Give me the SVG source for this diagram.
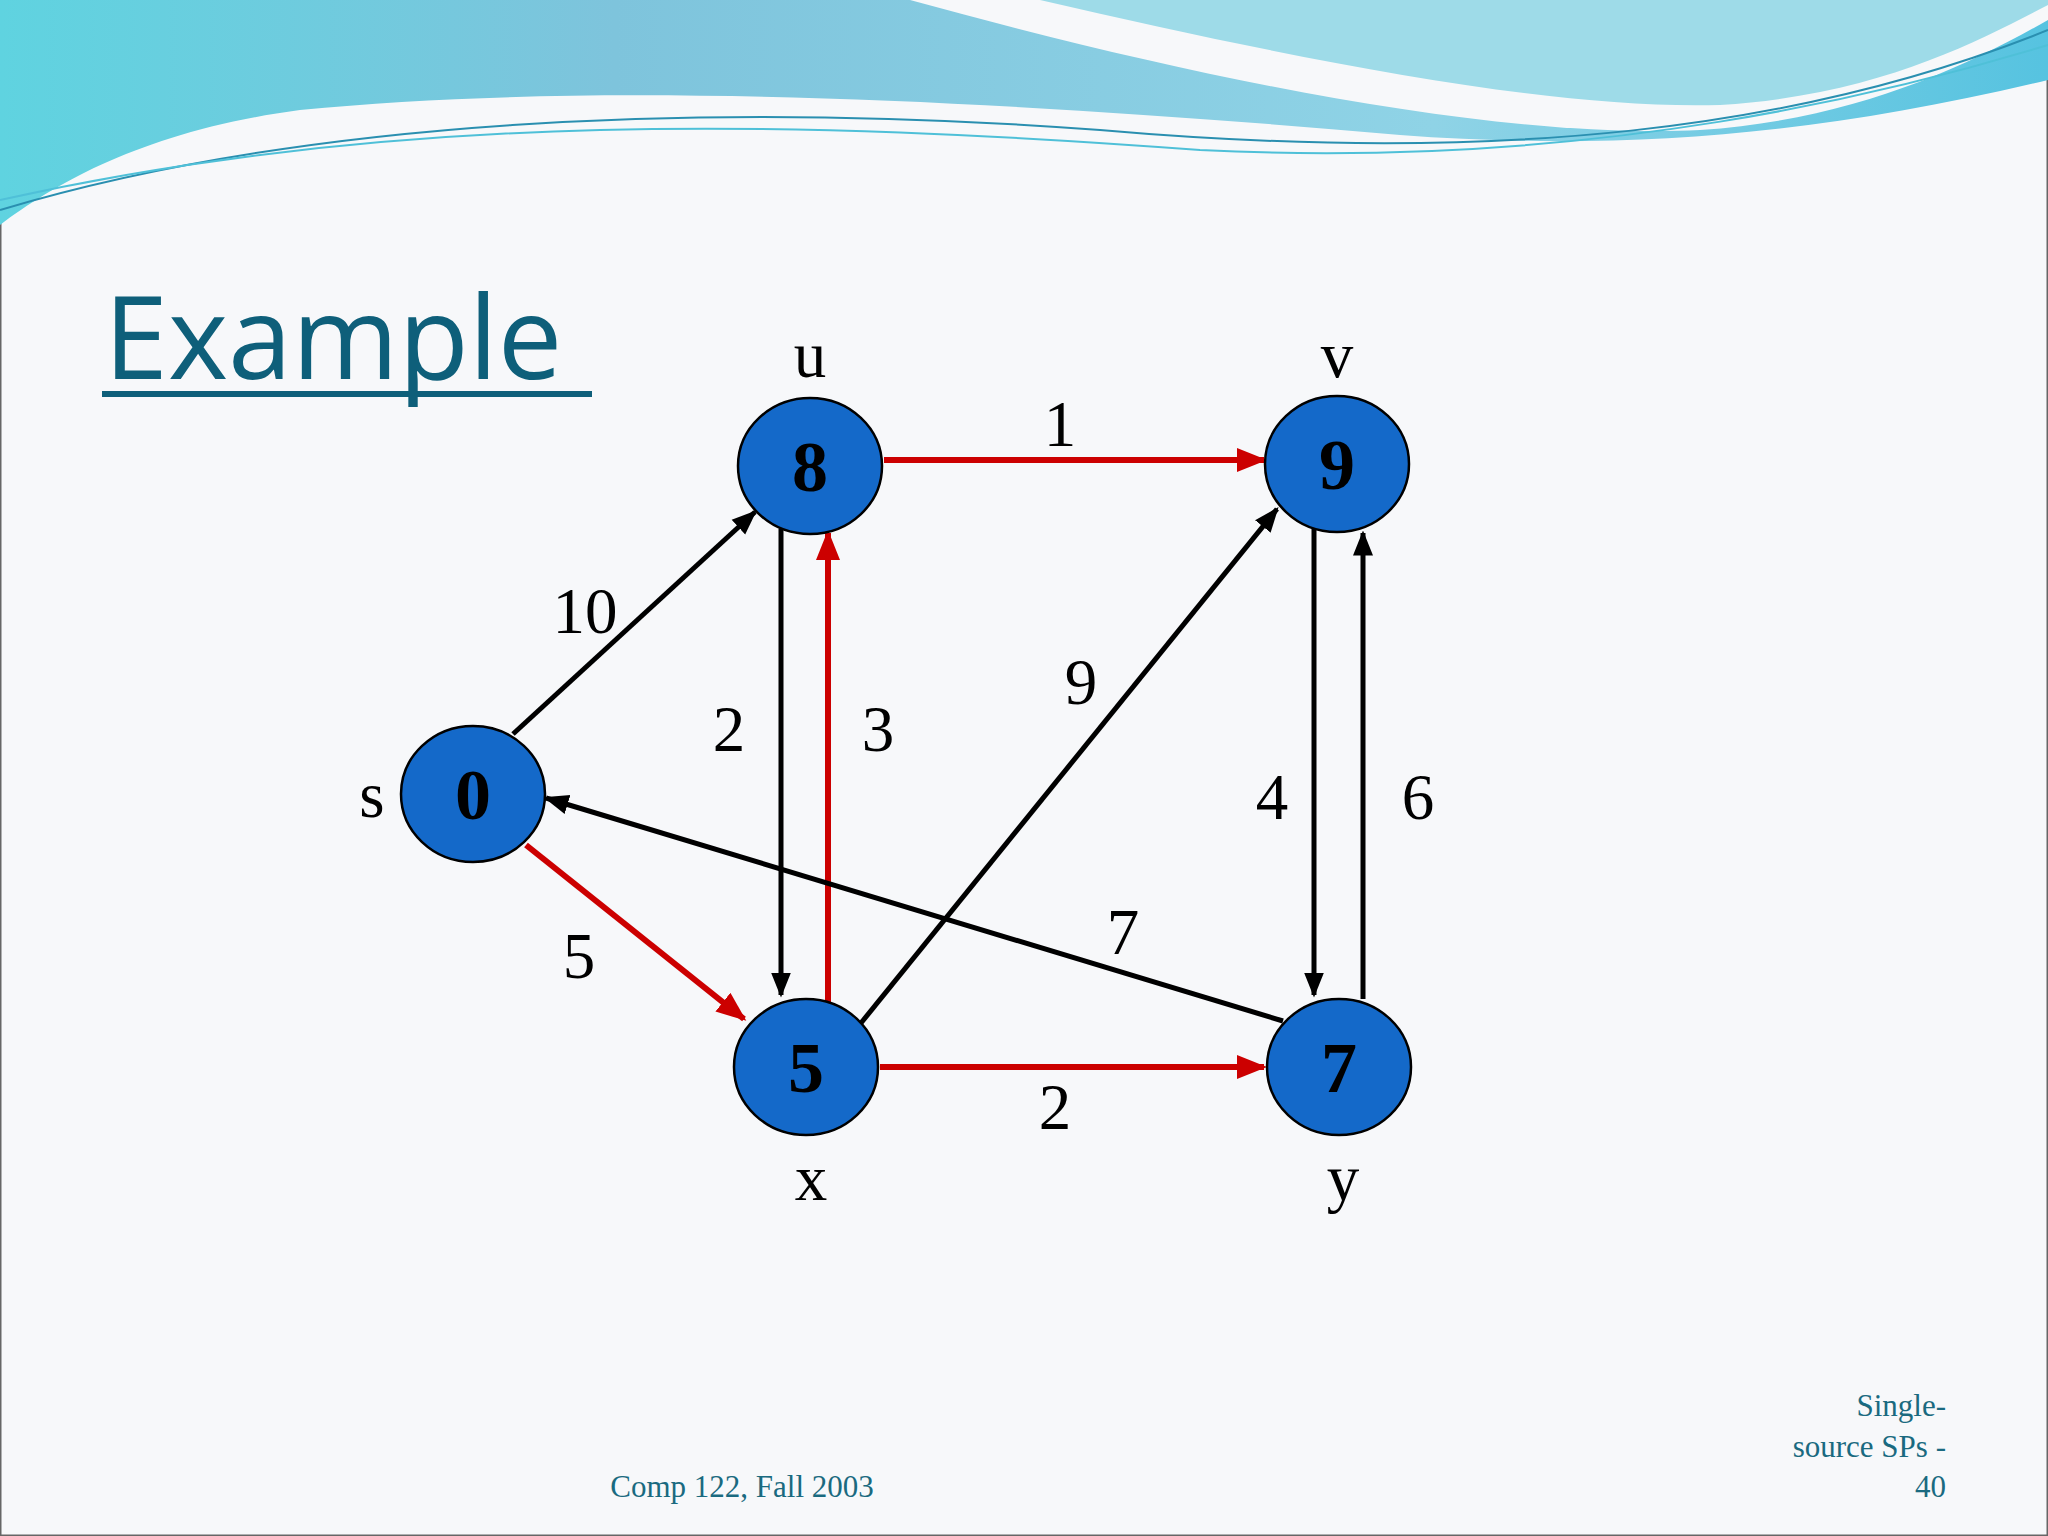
<svg xmlns="http://www.w3.org/2000/svg" width="2048" height="1536" viewBox="0 0 2048 1536">
<defs>
<linearGradient id="band" x1="0" y1="0" x2="1" y2="0">
<stop offset="0" stop-color="#5fd3e0"/><stop offset="0.3" stop-color="#7ec4dc"/><stop offset="0.7" stop-color="#8fd3e6"/><stop offset="1" stop-color="#56c3e0"/>
</linearGradient>
<marker id="ak" viewBox="0 0 10 10" refX="9" refY="5" markerWidth="5" markerHeight="5" orient="auto"><path d="M0,1 L10,5 L0,9 z" fill="#000"/></marker>
<marker id="ar" viewBox="0 0 10 10" refX="9" refY="5" markerWidth="5" markerHeight="5" orient="auto"><path d="M0,1 L10,5 L0,9 z" fill="#cc0000"/></marker>
<style>
.n{fill:#1469c9;stroke:#000;stroke-width:2.5}
.nt{font-family:"Liberation Serif",serif;font-weight:bold;font-size:72px;text-anchor:middle}
.lb{font-family:"Liberation Serif",serif;font-size:65px;text-anchor:middle}
.k{stroke:#000;stroke-width:5;fill:none;marker-end:url(#ak)}
.r{stroke:#cc0000;stroke-width:6;fill:none;marker-end:url(#ar)}
.ft{font-family:"Liberation Serif",serif;font-size:31px;fill:#1a6a80}
</style>
</defs>
<rect width="2048" height="1536" fill="#f7f8fa" stroke="#666" stroke-width="3"/>
<path d="M0,0 L2048,0 L2048,80 C1800,140 1600,150 1400,135 C1000,100 600,80 300,110 C150,130 60,180 0,225 Z" fill="url(#band)"/>
<path d="M910,0 C1200,80 1500,140 1700,130 C1850,120 1960,70 2048,20 L2048,0 Z" fill="#f7f8fa"/>
<path d="M1040,0 C1300,60 1550,110 1720,105 C1880,95 1980,40 2048,5 L2048,0 Z" fill="#9edbe8"/>
<path d="M0,210 C300,120 700,100 1100,130 C1500,165 1800,130 2048,30" fill="none" stroke="#2a8fb0" stroke-width="2"/>
<path d="M0,200 C400,110 800,120 1200,150 C1600,170 1900,90 2048,45" fill="none" stroke="#4fc0d8" stroke-width="2"/>
<text x="104" y="379" font-family="Open Sans, sans-serif" font-size="115" fill="#0e5f7a">Example</text>
<rect x="102" y="391" width="490" height="6" fill="#0e5f7a"/>
<g id="edges">
<line class="k" x1="513" y1="734" x2="755" y2="512"/>
<line class="r" x1="884" y1="460" x2="1264" y2="460"/>
<line class="k" x1="781" y1="529" x2="781" y2="995"/>
<line class="r" x1="828" y1="1032" x2="828" y2="533"/>
<line class="k" x1="861" y1="1023" x2="1277" y2="509"/>
<line class="k" x1="1314" y1="529" x2="1314" y2="995"/>
<line class="k" x1="1363" y1="999" x2="1363" y2="533"/>
<line class="k" x1="1283" y1="1021" x2="546" y2="798"/>
<line class="r" x1="526" y1="845" x2="744" y2="1019"/>
<line class="r" x1="880" y1="1067" x2="1264" y2="1067"/>
<text class="lb" x="1060" y="446">1</text>
<text class="lb" x="585" y="633">10</text>
<text class="lb" x="729" y="751">2</text>
<text class="lb" x="878" y="751">3</text>
<text class="lb" x="1081" y="704">9</text>
<text class="lb" x="1272" y="819">4</text>
<text class="lb" x="1418" y="819">6</text>
<text class="lb" x="1123" y="954">7</text>
<text class="lb" x="579" y="978">5</text>
<text class="lb" x="1055" y="1129">2</text>
</g>
<g id="s"><ellipse class="n" cx="473" cy="794" rx="72" ry="68"/><text class="nt" x="473" y="819">0</text><text class="lb" x="372" y="817">s</text></g>
<g id="u"><ellipse class="n" cx="810" cy="466" rx="72" ry="68"/><text class="nt" x="810" y="491">8</text><text class="lb" x="810" y="377">u</text></g>
<g id="v"><ellipse class="n" cx="1337" cy="464" rx="72" ry="68"/><text class="nt" x="1337" y="489">9</text><text class="lb" x="1337" y="377">v</text></g>
<g id="x"><ellipse class="n" cx="806" cy="1067" rx="72" ry="68"/><text class="nt" x="806" y="1092">5</text><text class="lb" x="811" y="1200">x</text></g>
<g id="y"><ellipse class="n" cx="1339" cy="1067" rx="72" ry="68"/><text class="nt" x="1339" y="1092">7</text><text class="lb" x="1343" y="1200">y</text></g>
<text class="ft" x="742" y="1497" text-anchor="middle">Comp 122, Fall 2003</text>
<text class="ft" x="1946" y="1416" text-anchor="end">Single-</text>
<text class="ft" x="1946" y="1457" text-anchor="end">source SPs -</text>
<text class="ft" x="1946" y="1497" text-anchor="end">40</text>
</svg>
